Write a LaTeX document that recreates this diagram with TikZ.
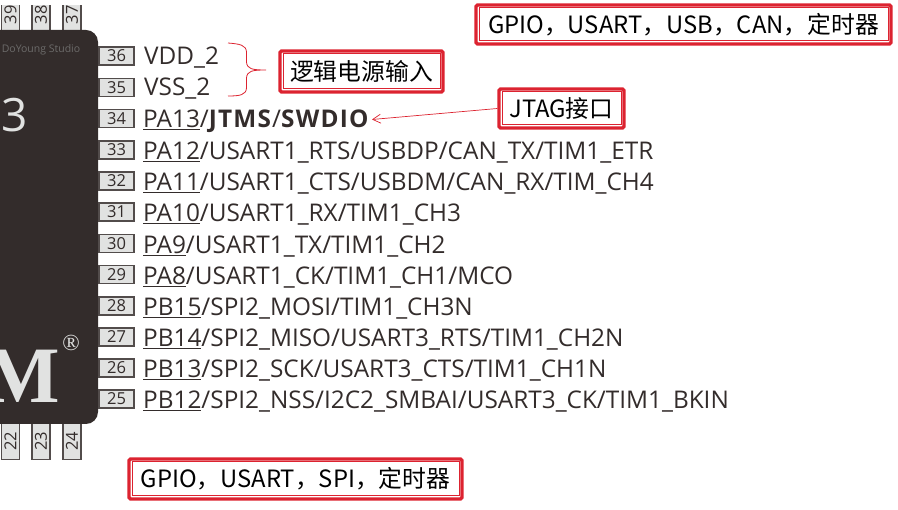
\documentclass[tikz,border=0pt]{standalone}
\usepackage{fontspec}
\setmainfont{Open Sans}
\newfontfamily\cjkfont{Noto Sans CJK SC}
\newfontfamily\serifmark{Liberation Serif}
\usetikzlibrary{arrows.meta,fit}
\definecolor{chipcolor}{HTML}{332C2B}
\definecolor{pincolor}{HTML}{E1E2E1}
\definecolor{markred}{HTML}{DC2330}
\tikzset{
    pin node/.style={draw=chipcolor!85,fill=pincolor,line width=1.2,inner sep=0,minimum width=35,minimum height=18,text=chipcolor,font=\fontsize{16.5}{17}\selectfont},
    side pin/.style={pin node,rotate=90,minimum width=36},
    pin text/.style={anchor=west,inner sep=0,yshift=-1.5,text=chipcolor,font=\fontsize{24.35}{25}\selectfont},
    note node/.style={draw=markred,line width=1,inner sep=0,text=black,font=\cjkfont\fontsize{23.8}{25}\selectfont},
    note frame/.style={draw=markred,line width=3.2,rounded corners=1.5,inner sep=2.5}
}
\begin{document}
\begin{tikzpicture}[x=1pt,y=-1pt]
    \useasboundingbox (0,0) rectangle (898,510);

    % pins on top and bottom edge
    \begin{scope}
        \clip (0,6) rectangle (98,60);
        \node[side pin] at (10.5, 15) (p39) {39};
        \node[side pin] at (41, 15) (p38) {38};
        \node[side pin] at (72, 15) (p37) {37};
    \end{scope}
    \node[side pin] at (10.5, 441.5) (p22) {22};
    \node[side pin] at (41, 441.5) (p23) {23};
    \node[side pin] at (72, 441.5) (p24) {24};

    % chip body
    \begin{scope}
        \clip (0,0) rectangle (98,510);
        \node[fill=chipcolor,rounded corners=12,minimum width=138,minimum height=394,inner sep=0] at (29, 227) (chip) {};
        \node[text=gray!75!chipcolor,font=\fontsize{10.5}{11}\selectfont,inner sep=0] at (41, 50) (studio) {DoYoung Studio};
        \node[text=pincolor,font=\fontsize{46}{46}\selectfont,inner sep=0] at (15, 115) (digit) {3};
        \node[text=pincolor,font=\serifmark\bfseries\fontsize{80}{80}\selectfont,inner sep=0] at (22, 376) (logo) {M};
        \node[text=pincolor,font=\serifmark\fontsize{23}{23}\selectfont,inner sep=0] at (71, 343) (regmark) {®};
    \end{scope}

    % pins on right edge
    \node[pin node] at (116.5, 56) (p36) {36};
    \node[pin node] at (116.5, 87.5) (p35) {35};
    \node[pin node] at (116.5, 118.5) (p34) {34};
    \node[pin node] at (116.5, 150) (p33) {33};
    \node[pin node] at (116.5, 181) (p32) {32};
    \node[pin node] at (116.5, 212) (p31) {31};
    \node[pin node] at (116.5, 243.5) (p30) {30};
    \node[pin node] at (116.5, 274.5) (p29) {29};
    \node[pin node] at (116.5, 306) (p28) {28};
    \node[pin node] at (116.5, 337) (p27) {27};
    \node[pin node] at (116.5, 368) (p26) {26};
    \node[pin node] at (116.5, 399) (p25) {25};

    % pin names
    \node[pin text] at (144, 56) (vdd) {VDD\_2};
    \node[pin text] at (144, 87.5) (vss) {VSS\_2};
    \node[pin text] at (143, 120) (pa13) {\underline{PA13}/\textbf{\addfontfeature{LetterSpace=5}JTMS}/\textbf{\addfontfeature{LetterSpace=5}SWDIO}};
    \node[pin text] at (143, 151.5) (pa12) {\underline{PA12}/USART1\_RTS/USBDP/CAN\_TX/TIM1\_ETR};
    \node[pin text] at (143, 182.5) (pa11) {\underline{PA11}/USART1\_CTS/USBDM/CAN\_RX/TIM\_CH4};
    \node[pin text] at (143, 213.5) (pa10) {\underline{PA10}/USART1\_RX/TIM1\_CH3};
    \node[pin text] at (143, 245) (pa9) {\underline{PA9}/USART1\_TX/TIM1\_CH2};
    \node[pin text] at (143, 276) (pa8) {\underline{PA8}/USART1\_CK/TIM1\_CH1/MCO};
    \node[pin text] at (143, 307) (pb15) {\underline{PB15}/SPI2\_MOSI/TIM1\_CH3N};
    \node[pin text] at (143, 338.5) (pb14) {\underline{PB14}/SPI2\_MISO/USART3\_RTS/TIM1\_CH2N};
    \node[pin text] at (143, 369.5) (pb13) {\underline{PB13}/SPI2\_SCK/USART3\_CTS/TIM1\_CH1N};
    \node[pin text] at (143, 400.5) (pb12) {\underline{PB12}/SPI2\_NSS/I2C2\_SMBAI/USART3\_CK/TIM1\_BKIN};

    % notes
    \node[note node,minimum width=409,minimum height=33] at (683.5, 24.5) (timers) {GPIO，USART，USB，CAN，定时器};
    \node[note frame,fit=(timers)] (timersframe) {};
    \node[note node,minimum width=157,minimum height=35] at (361.5, 71.5) (power) {逻辑电源输入};
    \node[note frame,fit=(power)] (powerframe) {};
    \node[note node,minimum width=119,minimum height=33] at (561.5, 108.5) (jtag) {JTAG接口};
    \node[note frame,fit=(jtag)] (jtagframe) {};
    \node[note node,minimum width=327,minimum height=34] at (295.5, 479) (spi) {GPIO，USART，SPI，定时器};
    \node[note frame,fit=(spi)] (spiframe) {};

    % connectors
    \coordinate (bracetop) at (228,43);
    \coordinate (bracetip) at (266,70);
    \coordinate (bracebot) at (228,96);
    \draw[markred,line width=0.8] (bracetop) .. controls (240,44) and (246,45) .. (246.5,52) -- (246.5,62) .. controls (247,69) and (252,70) .. (bracetip)
        .. controls (252,70) and (247,71) .. (246.5,78) -- (246.5,88) .. controls (246,95) and (240,96) .. (bracebot);
    \coordinate (swdioend) at (372,119.5);
    \draw[markred,line width=0.7,-{Straight Barb[length=8,width=9]}] (jtagframe.west) -- (swdioend);
\end{tikzpicture}
\end{document}
